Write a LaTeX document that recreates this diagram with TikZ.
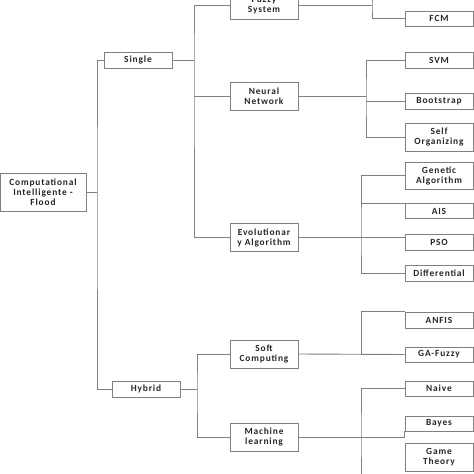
\documentclass[tikz,border=0pt]{standalone}
\usepackage{fontspec}
\newfontfamily\boxfont[LetterSpace=9,UprightFont={* Bold},BoldFont={* Bold}]{Carlito}
\definecolor{linegray}{HTML}{808080}
\definecolor{textgray}{HTML}{262626}

\begin{document}
\begin{tikzpicture}[x=1pt,y=-1pt,
  box/.style={draw=linegray, line width=0.9pt, fill=white, minimum width=68pt, minimum height=16pt,
    inner sep=0pt, align=center, text=textgray, font=\boxfont\fontsize{9.4}{10}\selectfont},
  tall/.style={box, minimum height=28pt},
  link/.style={draw=linegray, line width=0.9pt}]
\clip (0,0) rectangle (474,474);
\fill[white] (0,0) rectangle (474,474);
% root and first level
\node[box, minimum width=86pt, minimum height=38pt] (root) at (43,192) {Computational\\Intelligente -\\Flood};
\node[box] (single) at (138,60) {Single};
\node[box] (hybrid) at (146,389) {Hybrid};
% second level
\node[tall] (fuzzy) at (264,5) {Fuzzy\\System};
\node[tall] (neural) at (264,96) {Neural\\Network};
\node[tall] (evol) at (264,237.5) {Evolutionar\\y Algorithm};
\node[tall] (soft) at (264,354) {Soft\\Computing};
\node[tall] (ml) at (264,437) {Machine\\learning};
% leaves
\node[box, minimum height=15pt] (fcm) at (439,18.5) {FCM};
\node[box] (svm) at (439,60) {SVM};
\node[box] (bootstrap) at (439,101) {Bootstrap};
\node[tall] (selforg) at (439,137) {Self\\Organizing};
\node[tall, minimum height=27pt] (genetic) at (439,175.5) {Genetic\\Algorithm};
\node[box, minimum height=15pt] (ais) at (439,211) {AIS};
\node[box] (pso) at (439,242) {PSO};
\node[box] (diff) at (439,273) {Differential};
\node[box] (anfis) at (439,320) {ANFIS};
\node[box, minimum height=15pt] (gafuzzy) at (439,354.5) {GA-Fuzzy};
\node[box, minimum height=15pt] (naive) at (439,388.5) {Naive};
\node[box, minimum height=15pt] (bayes) at (439,423.5) {Bayes};
\node[tall] (game) at (439,457) {Game\\Theory};
% forks
\coordinate (rf) at (97,192);
\coordinate (sf) at (194,60);
\coordinate (hf) at (197,389);
\coordinate (ff) at (372,5);
\coordinate (fftop) at (372,-3);
\coordinate (nf) at (366,96);
\coordinate (ef) at (361,237.5);
\coordinate (scf) at (361,354);
\coordinate (mf) at (361,437);
\coordinate (mfbot) at (361,478);
% root links
\draw[link] (root.east) -- (rf);
\draw[link] (single.west) -| (rf) |- (hybrid.west);
% single links
\draw[link] (single.east) -- (sf);
\draw[link] (fuzzy.west) -| (sf) |- (evol.west);
\draw[link] (sf |- neural.west) -- (neural.west);
% fuzzy links
\draw[link] (fuzzy.east) -- (ff);
\draw[link] (fftop) -- (ff) |- (fcm.west);
% neural links
\draw[link] (neural.east) -- (nf);
\draw[link] (svm.west) -| (nf) |- (selforg.west);
\draw[link] (nf |- bootstrap.west) -- (bootstrap.west);
% evolutionary links
\draw[link] (evol.east) -- (evol.east -| pso.west);
\draw[link] (genetic.west) -| (ef) |- (diff.west);
\draw[link] (ef |- ais.north west) -- (ais.north west);
% hybrid links
\draw[link] (hybrid.east) -- (hf);
\draw[link] (soft.west) -| (hf) |- (ml.west);
% soft computing links
\draw[link] (soft.east) -- (gafuzzy.west);
\draw[link] (anfis.north west) -| (scf);
% machine learning links
\draw[link] (ml.east) -- (ml.east -| bayes.west) -- (bayes.south west);
\draw[link] (naive.west) -| (mf) -- (mfbot);
\end{tikzpicture}
\end{document}
